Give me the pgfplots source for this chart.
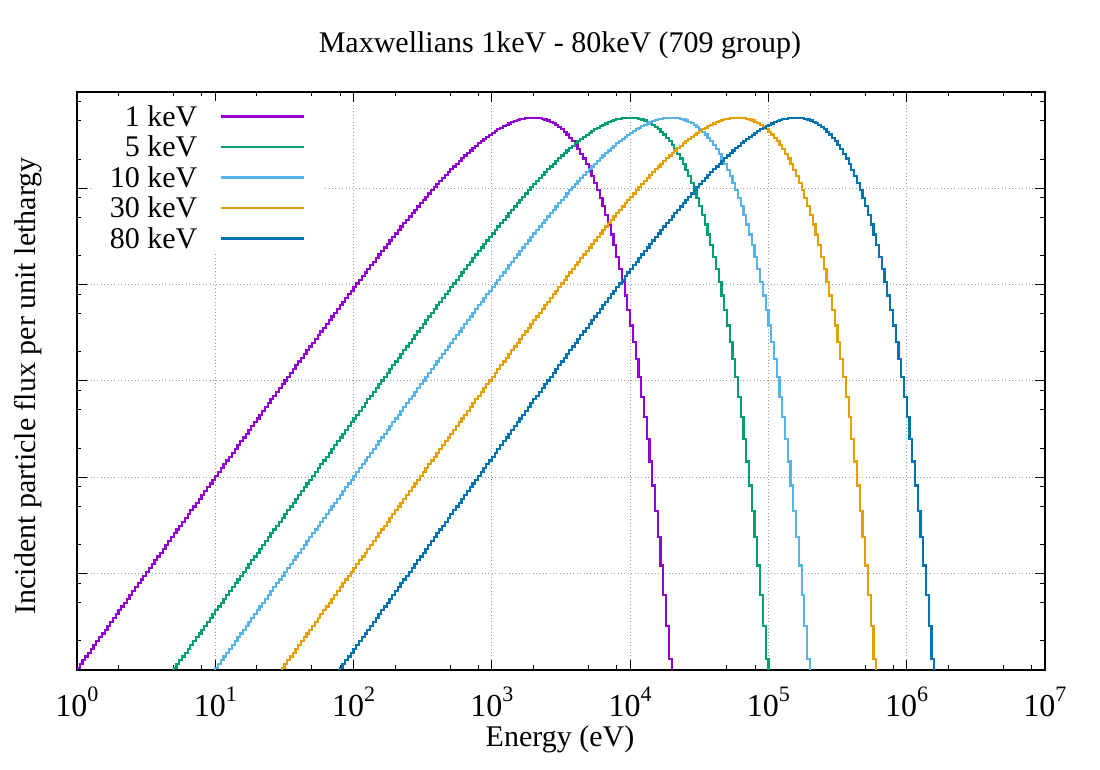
\documentclass[border=0pt]{standalone}
\usepackage{fontspec}
\setmainfont{Liberation Serif}
\usepackage{pgfplots}
\usepackage{pgfplotstable}
\pgfplotsset{compat=1.18}
\definecolor{c1}{HTML}{9400D3}
\definecolor{c2}{HTML}{009E73}
\definecolor{c3}{HTML}{56B4E9}
\definecolor{c4}{HTML}{E69F00}
\definecolor{c5}{HTML}{0072B2}
\newcommand{\pw}[1]{10\raisebox{7.5pt}{\fontsize{11}{11}\selectfont #1}}
% columns: log10(E/eV) for 1, 5, 10, 30, 80 keV ; y = log10(flux per unit lethargy), same shape for all
\pgfplotstableread{
xa xb xc xd xe y
-0.02 0.68 0.98 1.46 1.88 -0.500
0.00 0.70 1.00 1.48 1.90 0.020
0.02 0.72 1.02 1.50 1.92 0.060
0.04 0.74 1.04 1.52 1.94 0.100
0.06 0.76 1.06 1.54 1.96 0.139
0.08 0.78 1.08 1.56 1.98 0.179
0.10 0.80 1.10 1.58 2.00 0.219
0.12 0.82 1.12 1.60 2.02 0.259
0.14 0.84 1.14 1.62 2.04 0.299
0.16 0.86 1.16 1.64 2.06 0.339
0.18 0.88 1.18 1.66 2.08 0.379
0.20 0.90 1.20 1.68 2.10 0.419
0.22 0.92 1.22 1.70 2.12 0.459
0.24 0.94 1.24 1.72 2.14 0.499
0.26 0.96 1.26 1.74 2.16 0.539
0.28 0.98 1.28 1.76 2.18 0.579
0.30 1.00 1.30 1.78 2.20 0.619
0.32 1.02 1.32 1.80 2.22 0.659
0.34 1.04 1.34 1.82 2.24 0.699
0.36 1.06 1.36 1.84 2.26 0.739
0.38 1.08 1.38 1.86 2.28 0.779
0.40 1.10 1.40 1.88 2.30 0.819
0.42 1.12 1.42 1.90 2.32 0.859
0.44 1.14 1.44 1.92 2.34 0.899
0.46 1.16 1.46 1.94 2.36 0.939
0.48 1.18 1.48 1.96 2.38 0.979
0.50 1.20 1.50 1.98 2.40 1.019
0.52 1.22 1.52 2.00 2.42 1.059
0.54 1.24 1.54 2.02 2.44 1.098
0.56 1.26 1.56 2.04 2.46 1.138
0.58 1.28 1.58 2.06 2.48 1.178
0.60 1.30 1.60 2.08 2.50 1.218
0.62 1.32 1.62 2.10 2.52 1.258
0.64 1.34 1.64 2.12 2.54 1.298
0.66 1.36 1.66 2.14 2.56 1.338
0.68 1.38 1.68 2.16 2.58 1.378
0.70 1.40 1.70 2.18 2.60 1.418
0.72 1.42 1.72 2.20 2.62 1.458
0.74 1.44 1.74 2.22 2.64 1.498
0.76 1.46 1.76 2.24 2.66 1.537
0.78 1.48 1.78 2.26 2.68 1.577
0.80 1.50 1.80 2.28 2.70 1.617
0.82 1.52 1.82 2.30 2.72 1.657
0.84 1.54 1.84 2.32 2.74 1.697
0.86 1.56 1.86 2.34 2.76 1.737
0.88 1.58 1.88 2.36 2.78 1.777
0.90 1.60 1.90 2.38 2.80 1.816
0.92 1.62 1.92 2.40 2.82 1.856
0.94 1.64 1.94 2.42 2.84 1.896
0.96 1.66 1.96 2.44 2.86 1.936
0.98 1.68 1.98 2.46 2.88 1.976
1.00 1.70 2.00 2.48 2.90 2.016
1.02 1.72 2.02 2.50 2.92 2.055
1.04 1.74 2.04 2.52 2.94 2.095
1.06 1.76 2.06 2.54 2.96 2.135
1.08 1.78 2.08 2.56 2.98 2.175
1.10 1.80 2.10 2.58 3.00 2.214
1.12 1.82 2.12 2.60 3.02 2.254
1.14 1.84 2.14 2.62 3.04 2.294
1.16 1.86 2.16 2.64 3.06 2.334
1.18 1.88 2.18 2.66 3.08 2.373
1.20 1.90 2.20 2.68 3.10 2.413
1.22 1.92 2.22 2.70 3.12 2.453
1.24 1.94 2.24 2.72 3.14 2.492
1.26 1.96 2.26 2.74 3.16 2.532
1.28 1.98 2.28 2.76 3.18 2.572
1.30 2.00 2.30 2.78 3.20 2.611
1.32 2.02 2.32 2.80 3.22 2.651
1.34 2.04 2.34 2.82 3.24 2.690
1.36 2.06 2.36 2.84 3.26 2.730
1.38 2.08 2.38 2.86 3.28 2.769
1.40 2.10 2.40 2.88 3.30 2.809
1.42 2.12 2.42 2.90 3.32 2.848
1.44 2.14 2.44 2.92 3.34 2.888
1.46 2.16 2.46 2.94 3.36 2.927
1.48 2.18 2.48 2.96 3.38 2.967
1.50 2.20 2.50 2.98 3.40 3.006
1.52 2.22 2.52 3.00 3.42 3.045
1.54 2.24 2.54 3.02 3.44 3.085
1.56 2.26 2.56 3.04 3.46 3.124
1.58 2.28 2.58 3.06 3.48 3.163
1.60 2.30 2.60 3.08 3.50 3.202
1.62 2.32 2.62 3.10 3.52 3.241
1.64 2.34 2.64 3.12 3.54 3.281
1.66 2.36 2.66 3.14 3.56 3.320
1.68 2.38 2.68 3.16 3.58 3.359
1.70 2.40 2.70 3.18 3.60 3.398
1.72 2.42 2.72 3.20 3.62 3.437
1.74 2.44 2.74 3.22 3.64 3.476
1.76 2.46 2.76 3.24 3.66 3.514
1.78 2.48 2.78 3.26 3.68 3.553
1.80 2.50 2.80 3.28 3.70 3.592
1.82 2.52 2.82 3.30 3.72 3.631
1.84 2.54 2.84 3.32 3.74 3.669
1.86 2.56 2.86 3.34 3.76 3.708
1.88 2.58 2.88 3.36 3.78 3.746
1.90 2.60 2.90 3.38 3.80 3.785
1.92 2.62 2.92 3.40 3.82 3.823
1.94 2.64 2.94 3.42 3.84 3.861
1.96 2.66 2.96 3.44 3.86 3.899
1.98 2.68 2.98 3.46 3.88 3.938
2.00 2.70 3.00 3.48 3.90 3.976
2.02 2.72 3.02 3.50 3.92 4.013
2.04 2.74 3.04 3.52 3.94 4.051
2.06 2.76 3.06 3.54 3.96 4.089
2.08 2.78 3.08 3.56 3.98 4.127
2.10 2.80 3.10 3.58 4.00 4.164
2.12 2.82 3.12 3.60 4.02 4.201
2.14 2.84 3.14 3.62 4.04 4.239
2.16 2.86 3.16 3.64 4.06 4.276
2.18 2.88 3.18 3.66 4.08 4.313
2.20 2.90 3.20 3.68 4.10 4.350
2.22 2.92 3.22 3.70 4.12 4.386
2.24 2.94 3.24 3.72 4.14 4.423
2.26 2.96 3.26 3.74 4.16 4.459
2.28 2.98 3.28 3.76 4.18 4.495
2.30 3.00 3.30 3.78 4.20 4.531
2.32 3.02 3.32 3.80 4.22 4.567
2.34 3.04 3.34 3.82 4.24 4.603
2.36 3.06 3.36 3.84 4.26 4.638
2.38 3.08 3.38 3.86 4.28 4.673
2.40 3.10 3.40 3.88 4.30 4.708
2.42 3.12 3.42 3.90 4.32 4.743
2.44 3.14 3.44 3.92 4.34 4.778
2.46 3.16 3.46 3.94 4.36 4.812
2.48 3.18 3.48 3.96 4.38 4.846
2.50 3.20 3.50 3.98 4.40 4.879
2.52 3.22 3.52 4.00 4.42 4.913
2.54 3.24 3.54 4.02 4.44 4.946
2.56 3.26 3.56 4.04 4.46 4.979
2.58 3.28 3.58 4.06 4.48 5.011
2.60 3.30 3.60 4.08 4.50 5.043
2.62 3.32 3.62 4.10 4.52 5.075
2.64 3.34 3.64 4.12 4.54 5.106
2.66 3.36 3.66 4.14 4.56 5.137
2.68 3.38 3.68 4.16 4.58 5.167
2.70 3.40 3.70 4.18 4.60 5.197
2.72 3.42 3.72 4.20 4.62 5.227
2.74 3.44 3.74 4.22 4.64 5.256
2.76 3.46 3.76 4.24 4.66 5.284
2.78 3.48 3.78 4.26 4.68 5.312
2.80 3.50 3.80 4.28 4.70 5.340
2.82 3.52 3.82 4.30 4.72 5.366
2.84 3.54 3.84 4.32 4.74 5.393
2.86 3.56 3.86 4.34 4.76 5.418
2.88 3.58 3.88 4.36 4.78 5.443
2.90 3.60 3.90 4.38 4.80 5.467
2.92 3.62 3.92 4.40 4.82 5.490
2.94 3.64 3.94 4.42 4.84 5.513
2.96 3.66 3.96 4.44 4.86 5.535
2.98 3.68 3.98 4.46 4.88 5.556
3.00 3.70 4.00 4.48 4.90 5.576
3.02 3.72 4.02 4.50 4.92 5.595
3.04 3.74 4.04 4.52 4.94 5.613
3.06 3.76 4.06 4.54 4.96 5.630
3.08 3.78 4.08 4.56 4.98 5.646
3.10 3.80 4.10 4.58 5.00 5.661
3.12 3.82 4.12 4.60 5.02 5.674
3.14 3.84 4.14 4.62 5.04 5.687
3.16 3.86 4.16 4.64 5.06 5.698
3.18 3.88 4.18 4.66 5.08 5.707
3.20 3.90 4.20 4.68 5.10 5.716
3.22 3.92 4.22 4.70 5.12 5.722
3.24 3.94 4.24 4.72 5.14 5.728
3.26 3.96 4.26 4.74 5.16 5.731
3.28 3.98 4.28 4.76 5.18 5.733
3.30 4.00 4.30 4.78 5.20 5.733
3.32 4.02 4.32 4.80 5.22 5.731
3.34 4.04 4.34 4.82 5.24 5.728
3.36 4.06 4.36 4.84 5.26 5.722
3.38 4.08 4.38 4.86 5.28 5.714
3.40 4.10 4.40 4.88 5.30 5.704
3.42 4.12 4.42 4.90 5.32 5.691
3.44 4.14 4.44 4.92 5.34 5.676
3.46 4.16 4.46 4.94 5.36 5.658
3.48 4.18 4.48 4.96 5.38 5.638
3.50 4.20 4.50 4.98 5.40 5.615
3.52 4.22 4.52 5.00 5.42 5.588
3.54 4.24 4.54 5.02 5.44 5.559
3.56 4.26 4.56 5.04 5.46 5.526
3.58 4.28 4.58 5.06 5.48 5.490
3.60 4.30 4.60 5.08 5.50 5.451
3.62 4.32 4.62 5.10 5.52 5.407
3.64 4.34 4.64 5.12 5.54 5.360
3.66 4.36 4.66 5.14 5.56 5.309
3.68 4.38 4.68 5.16 5.58 5.253
3.70 4.40 4.70 5.18 5.60 5.193
3.72 4.42 4.72 5.20 5.62 5.128
3.74 4.44 4.74 5.22 5.64 5.058
3.76 4.46 4.76 5.24 5.66 4.983
3.78 4.48 4.78 5.26 5.68 4.902
3.80 4.50 4.80 5.28 5.70 4.816
3.82 4.52 4.82 5.30 5.72 4.724
3.84 4.54 4.84 5.32 5.74 4.625
3.86 4.56 4.86 5.34 5.76 4.521
3.88 4.58 4.88 5.36 5.78 4.409
3.90 4.60 4.90 5.38 5.80 4.290
3.92 4.62 4.92 5.40 5.82 4.164
3.94 4.64 4.94 5.42 5.84 4.029
3.96 4.66 4.96 5.44 5.86 3.887
3.98 4.68 4.98 5.46 5.88 3.736
4.00 4.70 5.00 5.48 5.90 3.576
4.02 4.72 5.02 5.50 5.92 3.407
4.04 4.74 5.04 5.52 5.94 3.227
4.06 4.76 5.06 5.54 5.96 3.038
4.08 4.78 5.08 5.56 5.98 2.837
4.10 4.80 5.10 5.58 6.00 2.625
4.12 4.82 5.12 5.60 6.02 2.402
4.14 4.84 5.14 5.62 6.04 2.165
4.16 4.86 5.16 5.64 6.06 1.916
4.18 4.88 5.18 5.66 6.08 1.654
4.20 4.90 5.20 5.68 6.10 1.377
4.22 4.92 5.22 5.70 6.12 1.085
4.24 4.94 5.24 5.72 6.14 0.777
4.26 4.96 5.26 5.74 6.16 0.453
4.28 4.98 5.28 5.76 6.18 0.112
4.30 5.00 5.30 5.78 6.20 -0.247
4.32 5.02 5.32 5.80 6.22 -1.000
}\maxw

\begin{document}
\begin{tikzpicture}[font=\fontsize{15}{18}\selectfont]
\path[use as bounding box] (-38.5pt,-50pt) rectangle (511.5pt,335pt);
\begin{axis}[
  at={(0pt,0pt)}, anchor=south west,
  scale only axis, width=484pt, height=289pt,
  xmin=0, xmax=7, ymin=0, ymax=6,
  xtick={0,1,2,3,4,5,6,7},
  xticklabels={\pw{0},\pw{1},\pw{2},\pw{3},\pw{4},\pw{5},\pw{6},\pw{7}},
  ytick={0,1,2,3,4,5,6},
  yticklabels={},
  minor xtick={0.301,0.699,0.903,1.301,1.699,1.903,2.301,2.699,2.903,3.301,3.699,3.903,4.301,4.699,4.903,5.301,5.699,5.903,6.301,6.699,6.903},
  minor ytick={0.301,0.699,0.903,1.301,1.699,1.903,2.301,2.699,2.903,3.301,3.699,3.903,4.301,4.699,4.903,5.301,5.699,5.903},
  tick align=inside,
  major tick length=5pt, minor tick length=2.25pt,
  every tick/.style={black, line width=0.5pt},
  axis line style={line width=0.9pt},
  grid=major,
  major grid style={black!40, line width=0.5pt, dash pattern=on 0.5pt off 1.2pt},
  xticklabel style={anchor=base, yshift=-23.5pt, font=\fontsize{16}{18}\selectfont},
  legend cell align=right,
  legend plot pos=right,
  legend image code/.code={\draw[#1] (0pt,0pt) -- (41.5pt,0pt);},
  legend style={at={(rel axis cs:0.2541,0.9848)}, anchor=north east,
    draw=none, fill=white, inner xsep=8.5pt, inner ysep=0pt,
    column sep=11.5pt, row sep=0pt,
    nodes={inner sep=0pt, text height=12.6pt, text depth=2.65pt}},
]
\addplot[const plot, c1, line width=1.1pt] table[x=xa, y=y] {\maxw};
\addlegendentry{1 keV}
\addplot[const plot, c2, line width=1.1pt] table[x=xb, y=y] {\maxw};
\addlegendentry{5 keV}
\addplot[const plot, c3, line width=1.1pt] table[x=xc, y=y] {\maxw};
\addlegendentry{10 keV}
\addplot[const plot, c4, line width=1.1pt] table[x=xd, y=y] {\maxw};
\addlegendentry{30 keV}
\addplot[const plot, c5, line width=1.1pt] table[x=xe, y=y] {\maxw};
\addlegendentry{80 keV}
\end{axis}
\node[anchor=base] at (241.5pt,308.5pt) {Maxwellians 1keV - 80keV (709 group)};
\node[anchor=base] at (241.5pt,-38.5pt) {Energy (eV)};
\node[anchor=base, rotate=90] at (-20.5pt,142pt) {Incident particle flux per unit lethargy};
\end{tikzpicture}
\end{document}
